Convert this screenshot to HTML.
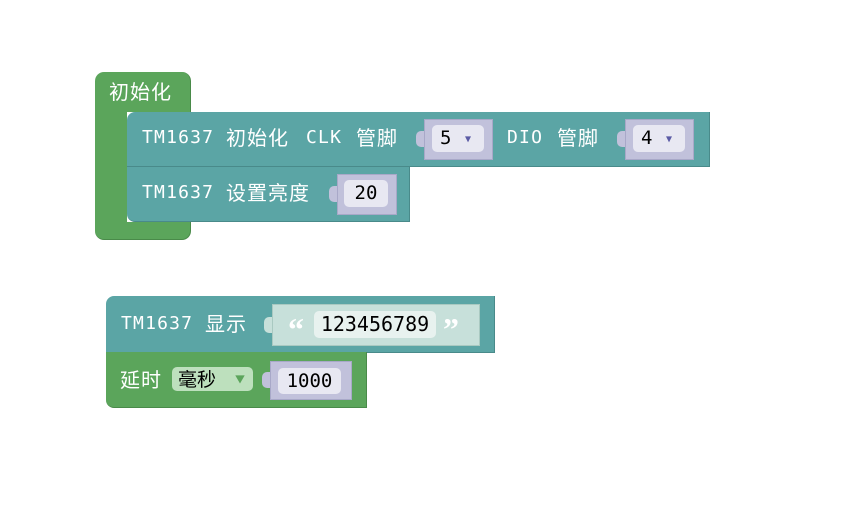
<!DOCTYPE html>
<html><head><meta charset="utf-8"><style>
body{margin:0;width:841px;height:531px;background:#fff;position:relative;overflow:hidden;font-family:"DejaVu Sans Mono","Noto Sans CJK SC",monospace;}
div{position:absolute;box-sizing:border-box;}
.t{color:#fff;font-size:18px;letter-spacing:1.2px;white-space:nowrap;line-height:22px}
.c{color:#fff;font-family:"Noto Sans CJK SC",sans-serif;font-size:20px;white-space:nowrap;line-height:22px;letter-spacing:1px}
.teal{background:#5ba5a5;border-bottom:1px solid #498a8a;border-right:1px solid #498a8a}
.green{background:#5ba55b;border-bottom:1px solid #498a49;border-right:1px solid #498a49}
.inp{background:#c1c1db;border:1px solid #a8a8c8}
.pill{background:#e8e8f2;border-radius:5px;color:#000;font-size:19px;line-height:27px;text-align:center}
.tab{width:8px;height:16px;background:#c1c1db;border-radius:5px 0 0 5px}
.arr{color:#5b5ba5;font-size:10px;position:absolute;top:1px}
</style></head><body>
<div class="green" style="left:95px;top:72px;width:96px;height:168px;border-radius:9px;"></div>
<div style="left:127px;top:112px;width:70px;height:110px;background:#fff"></div>
<div class="c" style="left:109px;top:80px">初始化</div>
<div class="teal" style="left:127px;top:112px;width:583px;height:55px;border-radius:8px 0 0 0"></div>
<div class="teal" style="left:127px;top:166px;width:283px;height:56px;border-radius:0 0 0 8px;border-top:1px solid #498a8a"></div>
<div class="t" style="left:142px;top:127px">TM1637</div>
<div class="c" style="left:226px;top:126px">初始化</div>
<div class="t" style="left:306px;top:127px">CLK</div>
<div class="c" style="left:356px;top:126px">管脚</div>
<div class="tab" style="left:416px;top:131px"></div>
<div class="inp" style="left:424px;top:119px;width:69px;height:41px"></div>
<div class="pill" style="left:432px;top:125px;width:52px;height:27px;text-align:left;padding-left:8px">5<span class="arr" style="left:33px">▼</span></div>
<div class="t" style="left:507px;top:127px">DIO</div>
<div class="c" style="left:557px;top:126px">管脚</div>
<div class="tab" style="left:617px;top:131px"></div>
<div class="inp" style="left:625px;top:119px;width:69px;height:41px"></div>
<div class="pill" style="left:633px;top:125px;width:52px;height:27px;text-align:left;padding-left:8px">4<span class="arr" style="left:33px">▼</span></div>
<div class="t" style="left:142px;top:182px">TM1637</div>
<div class="c" style="left:226px;top:181px">设置亮度</div>
<div class="tab" style="left:329px;top:186px"></div>
<div class="inp" style="left:337px;top:174px;width:60px;height:41px"></div>
<div class="pill" style="left:344px;top:180px;width:44px;height:27px">20</div>
<div class="teal" style="left:106px;top:296px;width:389px;height:57px;border-radius:8px 0 0 0"></div>
<div class="t" style="left:121px;top:313px">TM1637</div>
<div class="c" style="left:205px;top:312px">显示</div>
<div class="tab" style="left:264px;top:317px;background:#c7e0da"></div>
<div style="left:272px;top:304px;width:208px;height:42px;background:#c7e0da;border:1px solid #a9c9c1"></div>
<div style="left:288px;top:312px;color:#fff;font-family:'Liberation Serif',serif;font-size:32px;font-weight:bold;line-height:34px">“</div>
<div class="pill" style="left:314px;top:311px;width:122px;height:27px;background:#e8f2ef;font-size:20px">123456789</div>
<div style="left:443px;top:312px;color:#fff;font-family:'Liberation Serif',serif;font-size:32px;font-weight:bold;line-height:34px">”</div>
<div class="green" style="left:106px;top:352px;width:261px;height:56px;border-radius:0 0 0 8px"></div>
<div class="c" style="left:120px;top:368px">延时</div>
<div style="left:172px;top:367px;width:81px;height:24px;background:#bde0bd;border-radius:5px;font-family:'Noto Sans CJK SC',sans-serif;font-size:19px;line-height:24px;padding-left:6px;color:#000">毫秒<span style="position:absolute;left:63px;top:0;color:#5ba55b;font-size:10px">▼</span></div>
<div class="tab" style="left:262px;top:372px"></div>
<div class="inp" style="left:270px;top:361px;width:82px;height:39px"></div>
<div class="pill" style="left:278px;top:368px;width:63px;height:26px">1000</div>
</body></html>
